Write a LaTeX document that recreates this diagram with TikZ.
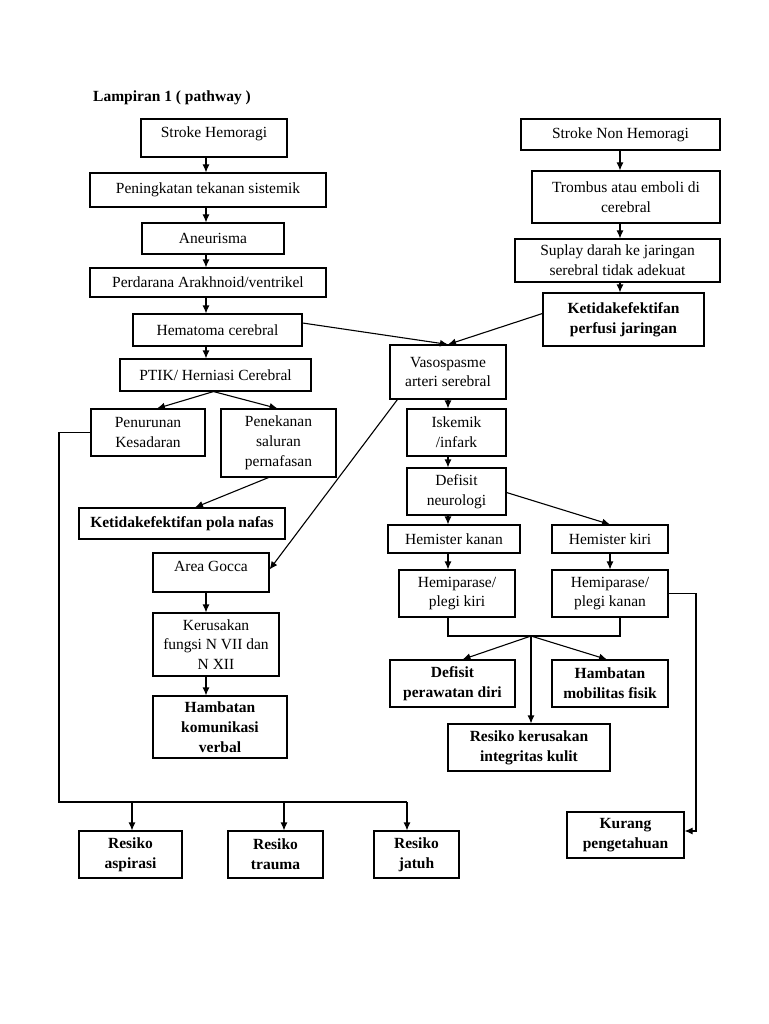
\documentclass[tikz,border=0pt]{standalone}
\usepackage{fontspec}
\setmainfont{Liberation Serif}
\usetikzlibrary{arrows.meta}

\begin{document}
\begin{tikzpicture}[x=1pt,y=-1pt,
  box/.style={draw,line width=1.1pt,inner sep=0pt,align=center,font=\fontsize{15.5}{19.8}\selectfont},
  bbox/.style={box,font=\fontsize{15.5}{19.8}\selectfont\bfseries},
  arr/.style={-{Latex[length=8pt,width=7pt]},line width=1.1pt},
  ln/.style={line width=1.1pt}]
\fill[white] (0,0) rectangle (768,1024);
\useasboundingbox (0,0) rectangle (768,1024);

\node[anchor=base west,inner sep=0pt,font=\fontsize{15.5}{19.8}\selectfont\bfseries] (title) at (93,102) {Lampiran 1 ( pathway )};

% spines for the vertical arrows
\coordinate (lsp) at (206,0);
\coordinate (csp) at (448,0);
\coordinate (rsp) at (620,0);
\coordinate (bk)  at (620,0);
\coordinate (rl)  at (696,0);
\coordinate (ll)  at (59,0);
\coordinate (jn)  at (531,636);
\coordinate (b1)  at (132,802);
\coordinate (b2)  at (284,802);
\coordinate (b3)  at (407,802);

% left column
\node[box,minimum width=146pt,minimum height=38pt,text depth=12pt] (SH) at (214,138) {Stroke Hemoragi};
\node[box,minimum width=236pt,minimum height=34pt] (PTS) at (208,190) {Peningkatan tekanan sistemik};
\node[box,minimum width=142pt,minimum height=31pt] (AN) at (213,238.5) {Aneurisma};
\node[box,minimum width=236pt,minimum height=29pt] (PA) at (208,282.5) {Perdarana Arakhnoid/ventrikel};
\node[box,minimum width=169pt,minimum height=32pt] (HC) at (217.5,330) {Hematoma cerebral};
\node[box,minimum width=191pt,minimum height=32pt] (PT) at (215.5,375) {PTIK/ Herniasi Cerebral};
\node[box,minimum width=114pt,minimum height=47pt] (PN) at (148,432.5) {Penurunan\\Kesadaran};
\node[box,minimum width=115pt,minimum height=68pt] (PS) at (278.5,443) {Penekanan\\saluran\\pernafasan};
\node[bbox,minimum width=206pt,minimum height=31pt] (KN) at (182,523.5) {Ketidakefektifan pola nafas};
\node[box,minimum width=116pt,minimum height=39pt,text depth=12pt] (AG) at (211,572.5) {Area Gocca};
\node[box,minimum width=126pt,minimum height=63pt] (KF) at (216,644.5) {Kerusakan\\fungsi N VII dan\\N XII};
\node[bbox,minimum width=134pt,minimum height=62pt] (HB) at (220,727) {Hambatan\\komunikasi\\verbal};

% right column
\node[box,minimum width=199pt,minimum height=31pt] (SNH) at (620.5,134.5) {Stroke Non Hemoragi};
\node[box,minimum width=188pt,minimum height=52pt] (TR) at (626,197) {Trombus atau emboli di\\cerebral};
\node[box,minimum width=205pt,minimum height=43pt] (SU) at (617.5,260.5) {Suplay darah ke jaringan\\serebral tidak adekuat};
\node[bbox,minimum width=161pt,minimum height=53pt] (KP) at (623.5,319.5) {Ketidakefektifan\\perfusi jaringan};

% middle column
\node[box,minimum width=116pt,minimum height=54pt] (VS) at (448,372) {Vasospasme\\arteri serebral};
\node[box,minimum width=99pt,minimum height=47pt] (IS) at (456.5,432.5) {Iskemik\\/infark};
\node[box,minimum width=99pt,minimum height=47pt] (DN) at (456.5,491.5) {Defisit\\neurologi};
\node[box,minimum width=132pt,minimum height=28pt] (HK) at (454,539) {Hemister kanan};
\node[box,minimum width=116pt,minimum height=28pt] (HKi) at (610,539) {Hemister kiri};
\node[box,minimum width=116pt,minimum height=47pt] (HPk) at (457,593.5) {Hemiparase/\\plegi kiri};
\node[box,minimum width=116pt,minimum height=47pt] (HPn) at (610,593.5) {Hemiparase/\\plegi kanan};
\node[bbox,minimum width=125pt,minimum height=47pt] (DP) at (452.5,683.5) {Defisit\\perawatan diri};
\node[bbox,minimum width=116pt,minimum height=47pt] (HM) at (610,683.5) {Hambatan\\mobilitas fisik};
\node[bbox,minimum width=162pt,minimum height=47pt] (RK) at (529,747.5) {Resiko kerusakan\\integritas kulit};
\node[bbox,minimum width=117pt,minimum height=46pt] (KU) at (625.5,835) {Kurang\\pengetahuan};

% bottom row
\node[bbox,minimum width=103pt,minimum height=47pt] (RA) at (130.5,854.5) {Resiko\\aspirasi};
\node[bbox,minimum width=95pt,minimum height=47pt] (RT) at (275.5,854.5) {Resiko\\trauma};
\node[bbox,minimum width=85pt,minimum height=47pt] (RJ) at (416.5,854.5) {Resiko\\jatuh};

% arrows left
\draw[arr] (SH.south -| lsp) -- (PTS.north -| lsp);
\draw[arr] (PTS.south -| lsp) -- (AN.north -| lsp);
\draw[arr] (AN.south -| lsp) -- (PA.north -| lsp);
\draw[arr] (PA.south -| lsp) -- (HC.north -| lsp);
\draw[arr] (HC.south -| lsp) -- (PT.north -| lsp);
\draw[arr] ([xshift=-2pt]PT.south) -- ([xshift=9pt]PN.north);
\draw[arr] ([xshift=-2pt]PT.south) -- ([xshift=-1pt]PS.north);
\draw[arr] ([xshift=-10pt]PS.south) -- ([xshift=13pt]KN.north);
\draw[arr] (AG.south -| lsp) -- (KF.north -| lsp);
\draw[arr] (KF.south -| lsp) -- (HB.north -| lsp);

% arrows right
\draw[arr] (SNH.south -| rsp) -- (TR.north -| rsp);
\draw[arr] (TR.south -| rsp) -- (SU.north -| rsp);
\draw[arr] (SU.south -| rsp) -- (KP.north -| rsp);
\draw[arr] ([yshift=7pt]HC.east) -- (VS.north);
\draw[arr] ([yshift=6pt]KP.west) -- (VS.north);

% arrows middle
\draw[arr] ([xshift=8pt]VS.south west) -- ([yshift=3pt]AG.east);
\draw[arr] (VS.south -| csp) -- (IS.north -| csp);
\draw[arr] (IS.south -| csp) -- (DN.north -| csp);
\draw[arr] (DN.south -| csp) -- (HK.north -| csp);
\draw[arr] ([yshift=-1pt]DN.east) -- (HKi.north);
\draw[arr] (HK.south -| csp) -- (HPk.north -| csp);
\draw[arr] (HKi.south) -- (HPn.north);
\draw[ln] (HPk.south -| csp) |- (jn) -| (HPn.south -| bk);
\draw[arr] (jn) -- ([xshift=10pt]DP.north);
\draw[arr] (jn) -- ([xshift=-3pt]HM.north);
\draw[arr] (jn) -- (RK.north -| jn);
\draw[arr] (HPn.east) -| ([yshift=4pt]KU.east -| rl) -- ([yshift=4pt]KU.east);

% bottom
\draw[ln] (PN.west) -| (ll |- b1) -- (b3);
\draw[arr] (b1) -- (RA.north -| b1);
\draw[arr] (b2) -- (RT.north -| b2);
\draw[arr] (b3) -- (RJ.north -| b3);
\end{tikzpicture}
\end{document}
